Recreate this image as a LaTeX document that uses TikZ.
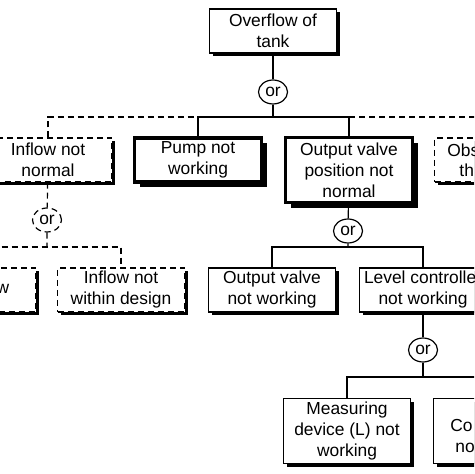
\documentclass[tikz,border=0pt]{standalone}
\usepackage{fontspec}
\setmainfont{Liberation Sans}
\usetikzlibrary{shapes.geometric,shadows}
\newcommand\evtsize{\fontsize{8.7}{10.5}\selectfont}
\tikzset{
  box/.style={draw, fill=white, line width=0.6pt, align=center, font=\evtsize,
    minimum width=63.5pt, minimum height=22pt, inner sep=1pt},
  evt/.style={box, drop shadow={opacity=1, fill=black, shadow xshift=1.5pt, shadow yshift=-1.5pt}},
  bigevt/.style={box, line width=1.6pt, drop shadow={opacity=1, fill=black, shadow xshift=2.6pt, shadow yshift=-2.6pt}},
  broken/.style={dash pattern=on 3pt off 2pt},
  dashevt/.style={evt, broken},
  gate/.style={ellipse, draw, fill=white, line width=0.6pt, font=\evtsize, inner sep=0pt,
    minimum width=14.5pt, minimum height=12pt},
  conn/.style={line width=0.6pt},
  frag/.style={font=\evtsize, inner sep=0pt}
}
\begin{document}
\begin{tikzpicture}[x=0.5pt,y=-0.5pt]
\useasboundingbox (0,0) rectangle (474,474);
\clip (0,0) rectangle (474,474);
% top event and first level
\node[evt] (tank) at (273,31) {Overflow of\\tank};
\node[gate] (or1) at (273,92) {or};
\node[dashevt] (inflow) at (48,160) {Inflow not\\normal};
\node[bigevt] (pump) at (198,160) {Pump not\\working};
\node[bigevt, minimum height=32.5pt] (outpos) at (349,170) {Output valve\\position not\\normal};
\node[dashevt] (obs) at (498,160) {};
\node[frag, anchor=base west] (obs1) at (447,157) {Obs};
\node[frag, anchor=base west] (obs2) at (459,177) {th};
% inflow branch
\node[gate, broken] (or2) at (47,220) {or};
\node[dashevt] (lowin) at (-28,290) {};
\node[frag, anchor=base east] (lowin1) at (9.5,293) {w};
\node[dashevt] (within) at (121,290) {Inflow not\\within design};
% output valve branch
\node[gate] (or3) at (348,231) {or};
\node[evt] (ovnw) at (272,290) {Output valve\\not working};
\node[evt] (lcnw) at (423,290) {Level controller\\not working};
\node[gate] (or4) at (423,350) {or};
\node[evt, minimum height=32.5pt] (meas) at (347,431) {Measuring\\device (L) not\\working};
\node[evt, minimum height=32.5pt] (ctrl) at (497,431) {};
\node[frag, anchor=base west] (ctrl1) at (450,431) {Co};
\node[frag, anchor=base west] (ctrl2) at (455,452) {no};
% junctions
\coordinate (j1) at (273,117);
\coordinate (j2) at (47,247);
\coordinate (j3) at (348,247);
\coordinate (j4) at (423,377);
% connectors
\draw[conn] (tank) -- (or1) -- (j1);
\draw[conn] (pump) -- (pump |- j1) -- (outpos |- j1) -- (outpos);
\draw[conn, broken] (inflow) -- (inflow |- j1) -- (pump |- j1);
\draw[conn, broken] (outpos |- j1) -- (obs |- j1) -- (obs);
\draw[conn, broken] (inflow) -- (or2) -- (j2);
\draw[conn, broken] (lowin) -- (lowin |- j2) -- (within |- j2) -- (within);
\draw[conn] (outpos) -- (or3) -- (j3);
\draw[conn] (ovnw) -- (ovnw |- j3) -- (lcnw |- j3) -- (lcnw);
\draw[conn] (lcnw) -- (or4) -- (j4);
\draw[conn] (meas) -- (meas |- j4) -- (ctrl |- j4) -- (ctrl);
\end{tikzpicture}
\end{document}
